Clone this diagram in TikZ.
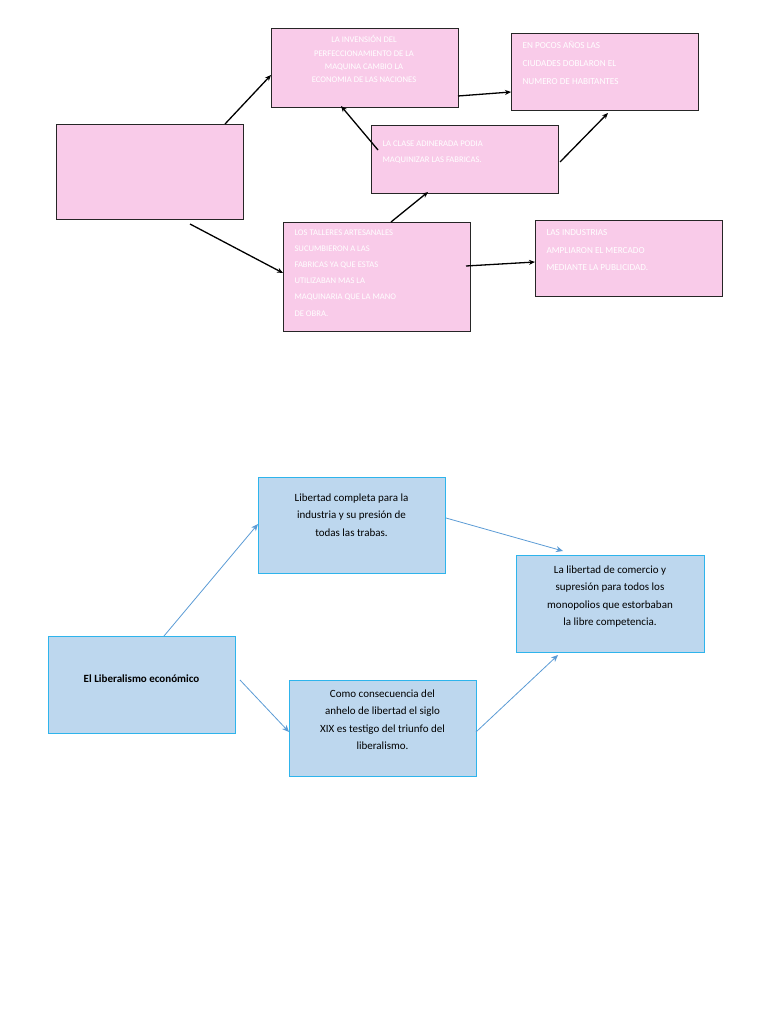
\documentclass[tikz,border=0pt]{standalone}
\usepackage{fontspec}
\setmainfont{Carlito}
\usetikzlibrary{arrows.meta}
\definecolor{pinkf}{HTML}{F9CBE9}
\definecolor{bluef}{HTML}{BDD7EE}
\definecolor{blueb}{HTML}{2EB4EC}
\definecolor{bluea}{HTML}{5B9BD5}
\begin{document}
\begin{tikzpicture}[x=1pt,y=-1pt,
 pbox/.style={draw=black!85,line width=0.9pt,fill=pinkf,text=white,font=\fontsize{8.6}{13}\selectfont,inner sep=0pt},
 bbox/.style={draw=blueb,line width=1pt,fill=bluef,text=black,font=\fontsize{11}{17.5}\selectfont,inner sep=0pt},
 parr/.style={-{Stealth[length=6pt,width=5pt]},line width=1.3pt,black},
 barr/.style={-{Stealth[length=7pt,width=6pt]},line width=0.8pt,bluea}]
\useasboundingbox (0,0) rectangle (768,1024);
% top boxes
\draw[pbox] (56,124) rectangle (243,219) coordinate (Abr);
\coordinate (A) at (56,124);
\draw[pbox] (271,28) rectangle (458,107);
\node[text=white,font=\fontsize{8.6}{13.3}\selectfont,align=center,anchor=north] (B) at (364,32) {LA INVENSIÓN DEL\\PERFECCIONAMIENTO DE LA\\MAQUINA CAMBIO LA\\ECONOMIA DE LAS NACIONES};
\draw[pbox] (511,33) rectangle (698,110);
\node[text=white,font=\fontsize{9.2}{18}\selectfont,align=left,anchor=north west] (C) at (519,38) {EN POCOS AÑOS LAS\\CIUDADES DOBLARON EL\\NUMERO DE HABITANTES};
\draw[pbox] (371,125) rectangle (558,193);
\node[text=white,font=\fontsize{8.6}{16}\selectfont,align=left,anchor=north west] (D) at (379,137) {LA CLASE ADINERADA PODIA\\MAQUINIZAR LAS FABRICAS.};
\draw[pbox] (283,222) rectangle (470,331);
\node[text=white,font=\fontsize{8.6}{16.2}\selectfont,align=left,anchor=north west] (E) at (291,226) {LOS TALLERES ARTESANALES\\SUCUMBIERON A LAS\\FABRICAS YA QUE ESTAS\\UTILIZABAN MAS LA\\MAQUINARIA QUE LA MANO\\DE OBRA.};
\draw[pbox] (535,220) rectangle (722,296);
\node[text=white,font=\fontsize{9.2}{17.5}\selectfont,align=left,anchor=north west] (F) at (543,226) {LAS INDUSTRIAS\\AMPLIARON EL MERCADO\\MEDIANTE LA PUBLICIDAD.};
\coordinate (a1) at (225,124); \coordinate (b1) at (271,75);
\coordinate (a2) at (190,224); \coordinate (e1) at (283,273);
\coordinate (b2) at (458,96); \coordinate (c1) at (511,92);
\coordinate (d1) at (378,150); \coordinate (b3) at (341,106);
\coordinate (e2) at (391,222); \coordinate (d2) at (428,192);
\coordinate (d3) at (560,162); \coordinate (c2) at (608,113);
\coordinate (e3) at (466,266); \coordinate (f1) at (535,262);
\draw[parr] (a1) -- (b1);
\draw[parr] (a2) -- (e1);
\draw[parr] (b2) -- (c1);
\draw[parr] (d1) -- (b3);
\draw[parr] (e2) -- (d2);
\draw[parr] (d3) -- (c2);
\draw[parr] (e3) -- (f1);
% bottom boxes
\draw[bbox] (48,636) rectangle (235,733);
\node[font=\bfseries\fontsize{11}{14}\selectfont] (G) at (141.5,679) {El Liberalismo económico};
\draw[bbox] (258,477) rectangle (445,573);
\node[font=\fontsize{11}{17.5}\selectfont,align=center,anchor=north] (H) at (351.5,490) {Libertad completa para la\\industria y su presión de\\todas las trabas.};
\draw[bbox] (516,555) rectangle (704,652);
\node[font=\fontsize{11}{17.5}\selectfont,align=center,anchor=north] (I) at (610,562) {La libertad de comercio y\\supresión para todos los\\monopolios que estorbaban\\la libre competencia.};
\draw[bbox] (289,680) rectangle (476,776);
\node[font=\fontsize{11}{17.5}\selectfont,align=center,anchor=north] (J) at (382.5,686) {Como consecuencia del\\anhelo de libertad el siglo\\XIX es testigo del triunfo del\\liberalismo.};
\coordinate (g1) at (164,636); \coordinate (h1) at (258,524);
\coordinate (g2) at (240,680); \coordinate (j1) at (289,732);
\coordinate (h2) at (446,518); \coordinate (i1) at (563,551);
\coordinate (j2) at (476,732); \coordinate (i2) at (558,655);
\draw[barr] (g1) -- (h1);
\draw[barr] (g2) -- (j1);
\draw[barr] (h2) -- (i1);
\draw[barr] (j2) -- (i2);
\end{tikzpicture}
\end{document}
